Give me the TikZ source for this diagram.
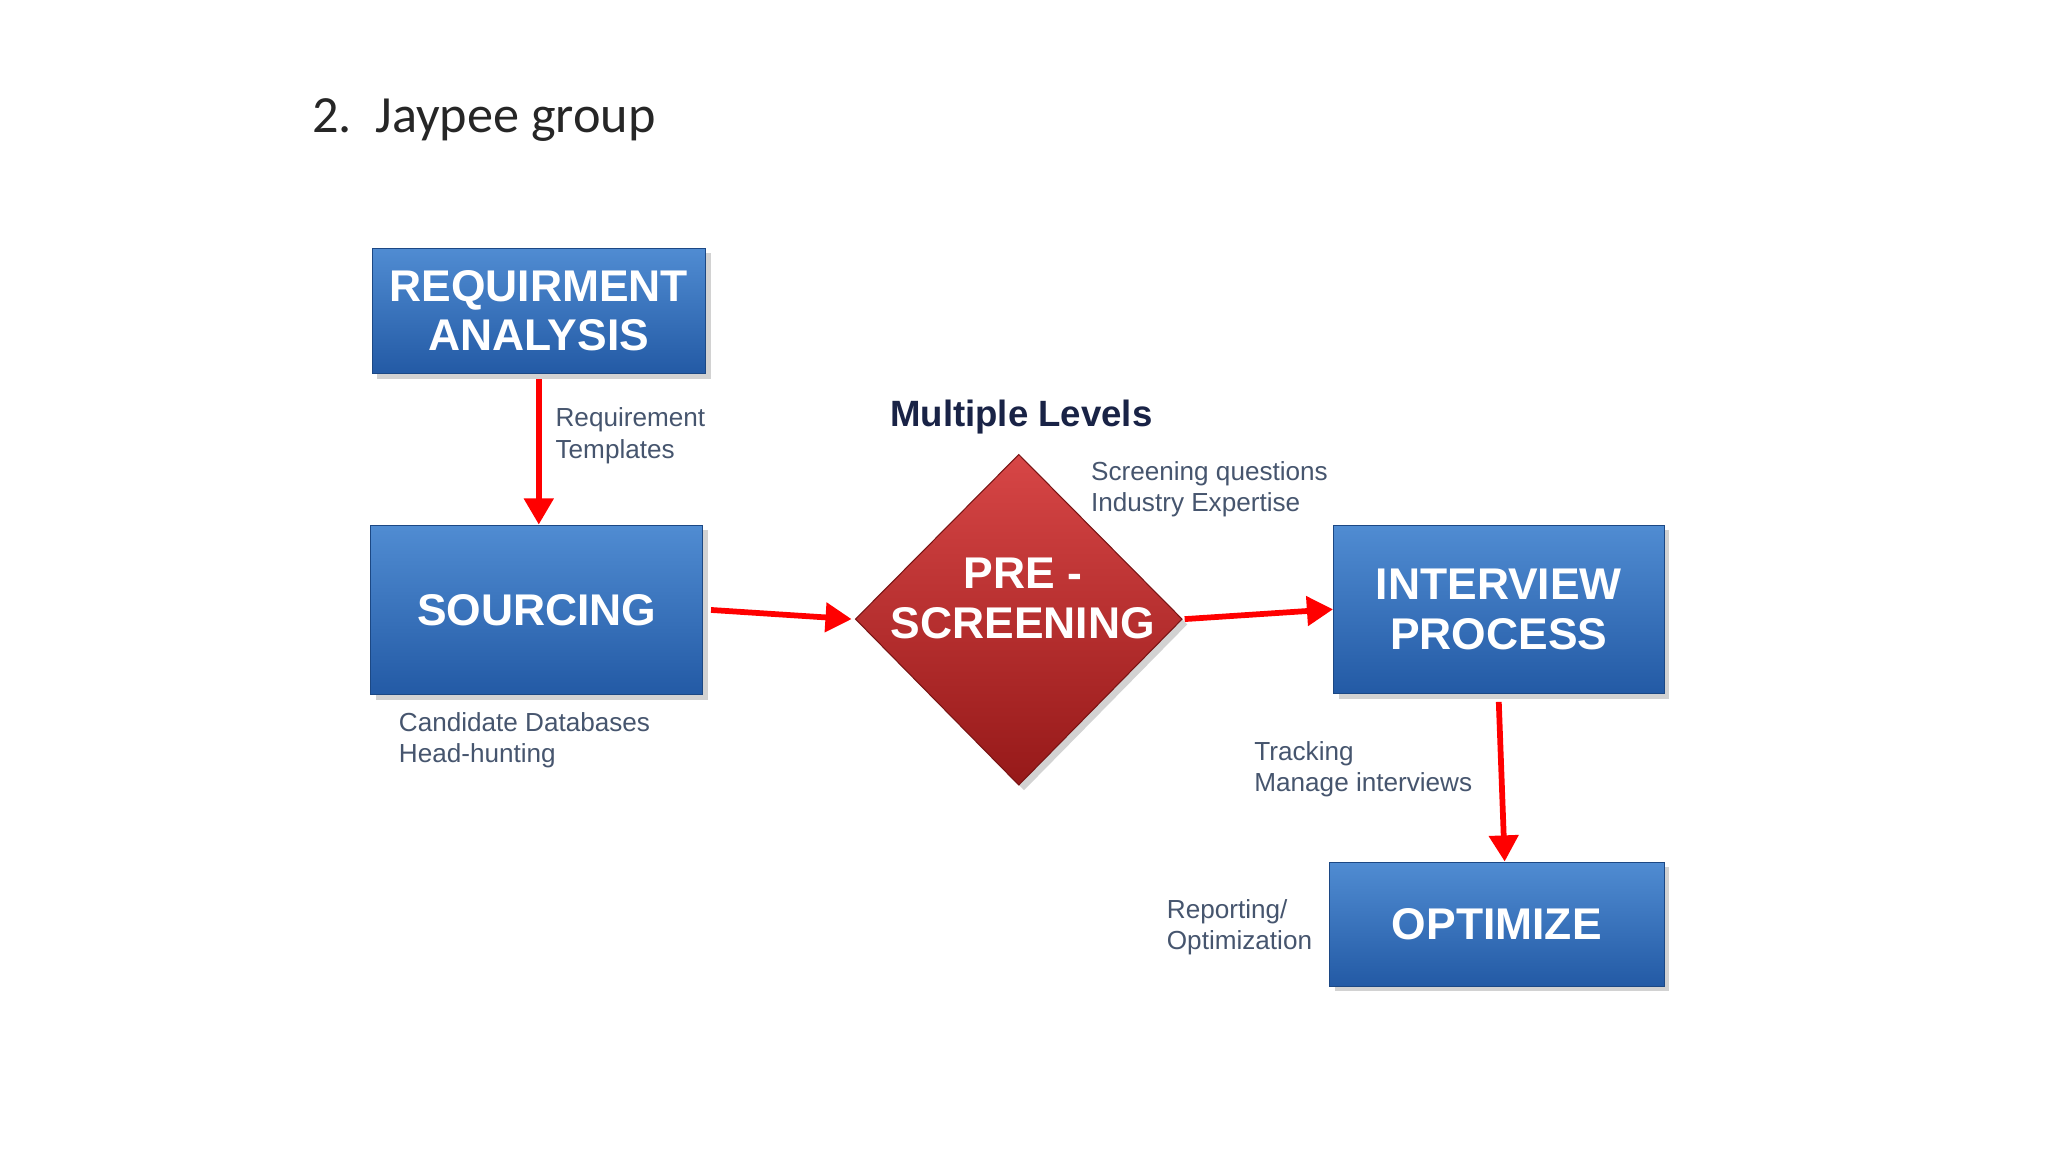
\documentclass[tikz,border=0pt]{standalone}
\usepackage{fontspec}
\setmainfont{Liberation Sans}
\newfontfamily\titlefont{Carlito}
\usetikzlibrary{arrows.meta,shadows}
\definecolor{boxtop}{RGB}{80,140,210}
\definecolor{boxbot}{RGB}{35,90,165}
\definecolor{dtop}{RGB}{215,70,70}
\definecolor{dbot}{RGB}{150,25,25}
\definecolor{lbl}{RGB}{70,85,110}
\definecolor{navy}{RGB}{25,35,70}
\tikzset{
 bluebox/.style={draw=boxbot!80!black,top color=boxtop,bottom color=boxbot,text=white,font=\fontsize{17}{19}\selectfont\bfseries,align=center,inner sep=0pt,drop shadow={opacity=0.35,shadow xshift=2pt,shadow yshift=-2pt}},
 redarrow/.style={draw=red,line width=2.2pt,-{Triangle[length=10pt,width=11pt]}},
 lab/.style={text=lbl,font=\fontsize{10}{12}\selectfont,align=left,anchor=north west,inner sep=0pt}
}
\begin{document}
\begin{tikzpicture}[x=0.5pt,y=-0.5pt]
\useasboundingbox[fill=white] (0,0) rectangle (1568,882);
\node[anchor=west,font=\titlefont\fontsize{20}{24}\selectfont,text=black!85] (title) at (232,92) {2.\ \ Jaypee group};
\node[bluebox,minimum width=127.5pt,minimum height=48pt] (req) at (412.5,238) {REQUIRMENT\\ANALYSIS};
\node[bluebox,minimum width=127pt,minimum height=65pt] (src) at (411,467) {SOURCING};
\node[bluebox,minimum width=126.5pt,minimum height=64.5pt] (int) at (1147.5,466.5) {INTERVIEW\\PROCESS};
\node[bluebox,minimum width=128pt,minimum height=47.5pt] (opt) at (1146,707.5) {OPTIMIZE};
\path[draw=dbot!80!black,top color=dtop,bottom color=dbot,drop shadow={opacity=0.35,shadow xshift=2pt,shadow yshift=-2pt}]
  (780,348) -- (905,474) -- (780,601) -- (655,474) -- cycle;
\node[text=white,font=\fontsize{17}{19}\selectfont\bfseries,align=center] (pre) at (783,458) {PRE -\\SCREENING};
\node[font=\fontsize{14}{16}\selectfont\bfseries,text=navy] (ml) at (782,319) {Multiple Levels};
\coordinate (dl) at (652,474); \coordinate (dr) at (907,474);
\draw[redarrow] (req.south) ++(0,4) coordinate (a1) (a1) -- (req.south |- src.north) coordinate (a2);
\draw[redarrow] ([xshift=3pt]src.east) -- (dl);
\draw[redarrow] (dr) -- (int.west);
\draw[redarrow] ([yshift=-3pt]int.south) -- ([xshift=3pt]opt.north);
\node[lab] (l1) at (425,312) {Requirement\\Templates};
\node[lab] (l2) at (305,545) {Candidate Databases\\Head-hunting};
\node[lab] (l3) at (835,353) {Screening questions\\Industry Expertise};
\node[lab] (l4) at (960,567) {Tracking\\Manage interviews};
\node[lab] (l5) at (893,688) {Reporting/\\Optimization};
\end{tikzpicture}
\end{document}
